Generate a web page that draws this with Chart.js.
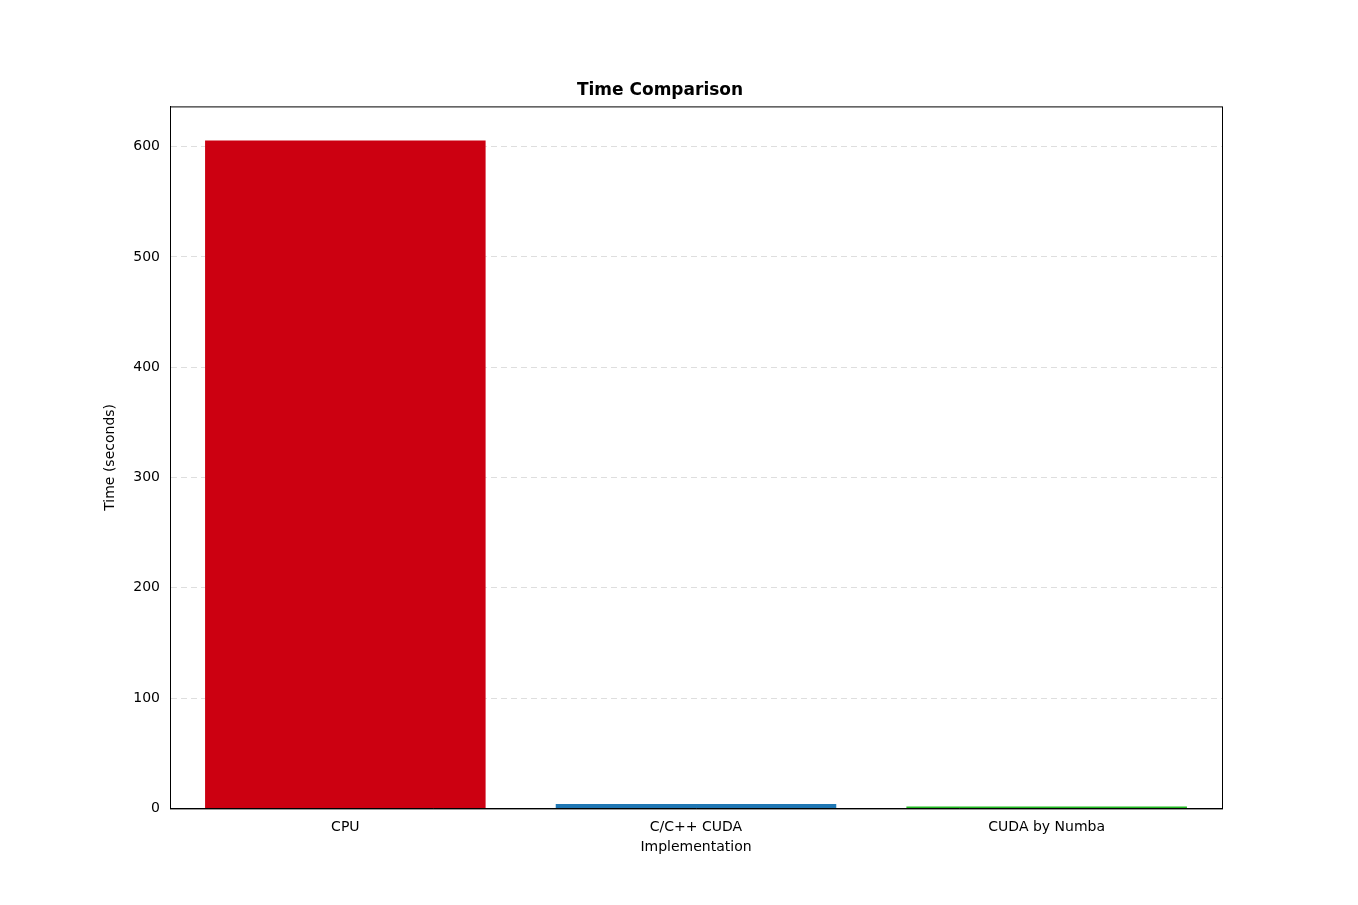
<!DOCTYPE html>
<html>
<head>
<meta charset="utf-8">
<script src="https://cdn.jsdelivr.net/npm/chart.js@4/dist/chart.umd.min.js"></script>
<style>
  html, body { margin: 0; padding: 0; background: #fff; }
  #wrap { width: 1358px; height: 905px; }
</style>
</head>
<body>
<div id="wrap"><canvas id="timeChart" width="1358" height="905"></canvas></div>
<script>
const categories = ['CPU', 'C/C++ CUDA', 'CUDA by Numba'];
const timesSeconds = [605.5, 4.0, 1.8];
const barColors = ['#cc0011', '#1f77b4', '#22bb22'];
const yTicks = [0, 100, 200, 300, 400, 500, 600];

// frame around the plot area, like matplotlib spines
const frame = {
  id: 'frame',
  afterDatasetsDraw(chart) {
    const { ctx, chartArea: a } = chart;
    ctx.save();
    ctx.strokeStyle = '#000';
    ctx.lineWidth = 1;
    ctx.strokeRect(a.left + 0.5, a.top + 0.5, a.right - a.left, a.bottom - a.top);
    ctx.restore();
  }
};

const font = { family: 'DejaVu Sans', size: 14 };

new Chart(document.getElementById('timeChart').getContext('2d'), {
  type: 'bar',
  data: {
    labels: categories,
    datasets: [{
      data: timesSeconds,
      backgroundColor: barColors,
      borderWidth: 0,
      categoryPercentage: 1,
      barPercentage: 0.8
    }]
  },
  options: {
    responsive: false,
    animation: false,
    layout: { padding: { left: 98, right: 136, top: 0, bottom: 45 } },
    plugins: {
      legend: { display: false },
      tooltip: { enabled: false },
      title: {
        display: true,
        text: 'Time Comparison',
        color: '#000',
        font: { family: 'DejaVu Sans', size: 17 },
        padding: { top: 80, bottom: 6 }
      }
    },
    scales: {
      x: {
        grid: { display: false, drawTicks: true },
        border: { color: '#000' },
        ticks: { color: '#000', font },
        title: { display: true, text: 'Implementation', color: '#000', font, padding: { top: 0 } }
      },
      y: {
        min: 0,
        max: 636.5,
        afterFit(scale) { scale.width = 72; },
        afterBuildTicks(scale) { scale.ticks = yTicks.map(v => ({ value: v })); },
        grid: {
          color: 'rgba(0,0,0,0.13)',
          drawTicks: false,
          tickLength: 0
        },
        border: { color: '#000', dash: [6, 4] },
        ticks: { color: '#000', font, padding: 10 },
        title: { display: true, text: 'Time (seconds)', color: '#000', font }
      }
    }
  },
  plugins: [frame]
});
</script>
</body>
</html>
